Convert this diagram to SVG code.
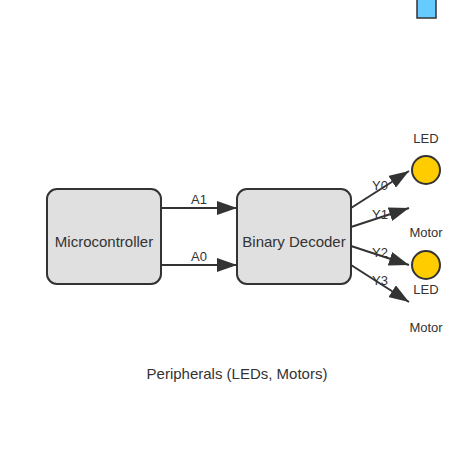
<svg xmlns="http://www.w3.org/2000/svg" width="474" height="474" viewBox="0 0 474 474">
<style>
text{font-family:"Liberation Sans",Arial,sans-serif;fill:#333;text-anchor:middle}
.box{fill:#e0e0e0;stroke:#333;stroke-width:2}
.big{font-size:15px}
.sm{font-size:13px}
.edge{stroke:#333;stroke-width:2;fill:none;marker-end:url(#ah)}
.led{fill:#ffcc00;stroke:#333;stroke-width:2}
</style>
<defs>
<marker id="ah" viewBox="0 0 10 10" refX="10" refY="5" markerWidth="9" markerHeight="9" markerUnits="userSpaceOnUse" orient="auto">
<path d="M0,0L10,5L0,10z" fill="#333"/>
</marker>
<marker id="ah2" viewBox="0 0 20 14" refX="20" refY="7" markerWidth="20" markerHeight="14" markerUnits="userSpaceOnUse" orient="auto">
<path d="M0,0L20,7L0,14z" fill="#333"/>
</marker>
</defs>
<rect x="417" y="-2" width="19" height="20" fill="#66ccff" stroke="#333" stroke-width="1.5"/>
<g id="mcu"><rect class="box" x="47" y="189" width="114" height="95" rx="10"/><text class="big" x="104" y="247">Microcontroller</text></g>
<g id="decoder"><rect class="box" x="237" y="189" width="114" height="95" rx="10"/><text class="big" x="294" y="247">Binary Decoder</text></g>
<g id="led1"><circle class="led" cx="426" cy="170" r="14"/><text class="sm" x="426" y="143">LED</text></g>
<g id="motor1"><text class="sm" x="426" y="237">Motor</text></g>
<g id="led2"><circle class="led" cx="426" cy="265" r="14"/><text class="sm" x="426" y="294">LED</text></g>
<g id="motor2"><text class="sm" x="426" y="332">Motor</text></g>
<g id="connectors">
<path style="stroke:#333;stroke-width:2;fill:none;marker-end:url(#ah2)" d="M161,208H237"/>
<path style="stroke:#333;stroke-width:2;fill:none;marker-end:url(#ah2)" d="M161,265H237"/>
<path style="stroke:#333;stroke-width:2;fill:none;marker-end:url(#ah2)" d="M351,208L409,171"/>
<path style="stroke:#333;stroke-width:2;fill:none;marker-end:url(#ah2)" d="M351,227L409,208"/>
<path style="stroke:#333;stroke-width:2;fill:none;marker-end:url(#ah2)" d="M351,246L409,265"/>
<path style="stroke:#333;stroke-width:2;fill:none;marker-end:url(#ah2)" d="M351,265L409,302"/>
<text class="sm" x="199" y="204">A1</text>
<text class="sm" x="199" y="261">A0</text>
<text class="sm" x="380" y="190">Y0</text>
<text class="sm" x="380" y="219">Y1</text>
<text class="sm" x="380" y="257">Y2</text>
<text class="sm" x="380" y="285">Y3</text>
</g>
<text x="237" y="379" style="font-size:15px">Peripherals (LEDs, Motors)</text>
</svg>
